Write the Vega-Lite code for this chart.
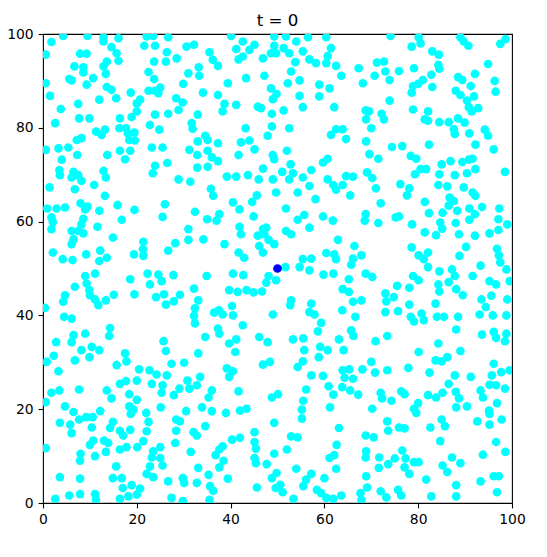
{
"$schema":"https://vega.github.io/schema/vega-lite/v6.json",
"width":469,"height":469,
"autosize":{"type":"none"},
"padding":{"left":43,"top":34,"right":35,"bottom":54},
"background":"white",
"title":{"text":"t = 0","fontSize":16.7,"font":"DejaVu Sans","fontWeight":"normal","color":"black","offset":3,"dy":6},
"config":{"view":{"stroke":"black","strokeWidth":1.1},
"axis":{"domain":false,"grid":false,"tickColor":"black","tickWidth":1.1,"tickSize":4.9,"labelFont":"DejaVu Sans","labelFontSize":13.9,"labelColor":"black","labelPadding":4.9,"title":null,"labelFlush":false,"labelOverlap":false}},
"datasets":{"cyan":[
{"x":1.8,"y":98.3},{"x":4.3,"y":99.6},{"x":9.5,"y":99.6},{"x":12.9,"y":99.3},{"x":12.9,"y":98.4},{"x":16.1,"y":99.1},{"x":14.6,"y":97.2},{"x":15.7,"y":95.9},{"x":16.1,"y":94.3},{"x":22.1,"y":99.5},{"x":23.5,"y":99.6},{"x":21.6,"y":97.5},{"x":23.9,"y":97.5},{"x":26.7,"y":99.3},{"x":26.4,"y":96.1},{"x":26.2,"y":94.1},{"x":28.5,"y":94.8},{"x":30.6,"y":97.3},{"x":32.2,"y":97.7},{"x":23.7,"y":94.1},{"x":0.6,"y":95.6},{"x":7.9,"y":95.8},{"x":9.3,"y":95.8},{"x":6.7,"y":93.1},{"x":8.6,"y":92.9},{"x":8.6,"y":91.8},{"x":13.6,"y":94.1},{"x":12.9,"y":93.1},{"x":13.4,"y":91.5},{"x":22.5,"y":91.9},{"x":23.7,"y":90.4},{"x":31.0,"y":91.6},{"x":5.6,"y":90.4},{"x":6.1,"y":90.1},{"x":0.6,"y":89.5},{"x":9.3,"y":89.2},{"x":10.7,"y":90.6},{"x":29.9,"y":89.4},{"x":13.6,"y":88.7},{"x":14.6,"y":88.1},{"x":15.6,"y":86.3},{"x":18.7,"y":87.5},{"x":22.5,"y":87.9},{"x":23.9,"y":87.9},{"x":25.0,"y":88.6},{"x":24.6,"y":87.4},{"x":1.5,"y":86.8},{"x":12.0,"y":86.0},{"x":7.5,"y":85.1},{"x":20.7,"y":86.0},{"x":20.0,"y":85.2},{"x":28.4,"y":86.3},{"x":29.8,"y":85.4},{"x":28.9,"y":83.8},{"x":3.8,"y":84.0},{"x":20.0,"y":83.5},{"x":18.9,"y":82.3},{"x":26.7,"y":83.0},{"x":23.9,"y":82.8},{"x":2.6,"y":81.0},{"x":7.7,"y":82.0},{"x":9.9,"y":82.0},{"x":16.4,"y":82.0},{"x":22.8,"y":80.6},{"x":24.8,"y":79.6},{"x":31.7,"y":81.0},{"x":31.9,"y":79.8},{"x":16.3,"y":79.9},{"x":17.7,"y":79.9},{"x":13.2,"y":79.6},{"x":11.3,"y":79.2},{"x":12.5,"y":78.5},{"x":18.1,"y":78.8},{"x":19.5,"y":79.0},{"x":18.4,"y":77.4},{"x":19.6,"y":77.3},{"x":8.2,"y":77.8},{"x":7.2,"y":77.4},
{"x":40.1,"y":99.6},{"x":42.6,"y":98.4},{"x":45.1,"y":97.7},{"x":44.0,"y":96.6},{"x":42.6,"y":95.2},{"x":41.7,"y":94.6},{"x":41.2,"y":96.8},{"x":49.3,"y":99.5},{"x":51.8,"y":99.5},{"x":54.0,"y":98.4},{"x":49.3,"y":97.5},{"x":49.7,"y":95.9},{"x":48.6,"y":95.9},{"x":51.3,"y":97.0},{"x":52.5,"y":95.9},{"x":46.9,"y":94.8},{"x":56.5,"y":99.3},{"x":60.4,"y":99.3},{"x":61.4,"y":97.0},{"x":60.7,"y":95.3},{"x":55.4,"y":96.3},{"x":56.8,"y":94.6},{"x":58.2,"y":93.8},{"x":60.4,"y":93.8},{"x":62.5,"y":93.2},{"x":63.6,"y":91.1},{"x":53.8,"y":94.0},{"x":35.5,"y":96.1},{"x":36.2,"y":94.5},{"x":37.3,"y":93.2},{"x":33.2,"y":92.9},{"x":33.3,"y":91.1},{"x":52.9,"y":92.0},{"x":47.2,"y":91.1},{"x":43.3,"y":90.6},{"x":39.4,"y":89.5},{"x":52.2,"y":89.5},{"x":54.7,"y":90.1},{"x":58.9,"y":89.2},{"x":61.1,"y":88.4},{"x":48.6,"y":88.4},{"x":49.8,"y":87.2},{"x":49.0,"y":86.1},{"x":34.1,"y":87.5},{"x":37.3,"y":87.0},{"x":38.7,"y":85.1},{"x":38.3,"y":83.5},{"x":41.2,"y":84.9},{"x":45.8,"y":84.5},{"x":46.5,"y":84.2},{"x":48.8,"y":83.0},{"x":51.3,"y":83.7},{"x":54.7,"y":86.8},{"x":55.4,"y":84.4},{"x":58.9,"y":86.7},{"x":62.1,"y":84.4},{"x":43.2,"y":79.9},{"x":48.8,"y":80.3},{"x":52.5,"y":79.9},{"x":47.9,"y":78.3},{"x":33.0,"y":82.8},{"x":61.4,"y":78.5},{"x":62.5,"y":79.7},{"x":63.9,"y":79.7},{"x":64.6,"y":77.6},{"x":34.6,"y":78.3},{"x":35.1,"y":77.4},{"x":33.0,"y":77.1},{"x":37.3,"y":76.7},{"x":42.2,"y":76.9},{"x":44.0,"y":77.3},
{"x":74.1,"y":99.6},{"x":80.1,"y":99.3},{"x":80.5,"y":98.0},{"x":78.6,"y":97.3},{"x":83.0,"y":96.3},{"x":84.4,"y":95.6},{"x":89.0,"y":99.3},{"x":89.7,"y":98.4},{"x":90.7,"y":97.5},{"x":97.5,"y":97.9},{"x":98.6,"y":98.9},{"x":67.3,"y":92.7},{"x":68.2,"y":89.5},{"x":71.2,"y":93.9},{"x":72.7,"y":94.1},{"x":73.0,"y":92.0},{"x":73.9,"y":90.2},{"x":70.7,"y":91.1},{"x":75.9,"y":92.1},{"x":79.1,"y":92.7},{"x":78.9,"y":88.9},{"x":78.6,"y":87.5},{"x":80.0,"y":89.4},{"x":81.0,"y":90.2},{"x":82.8,"y":91.3},{"x":83.0,"y":88.7},{"x":84.3,"y":93.4},{"x":84.5,"y":92.6},{"x":88.5,"y":90.8},{"x":89.4,"y":90.2},{"x":91.2,"y":88.9},{"x":92.1,"y":91.5},{"x":94.9,"y":93.6},{"x":96.3,"y":90.0},{"x":96.5,"y":87.7},{"x":88.0,"y":87.9},{"x":89.0,"y":87.0},{"x":90.4,"y":85.8},{"x":91.9,"y":86.7},{"x":90.8,"y":84.4},{"x":91.4,"y":83.5},{"x":92.8,"y":84.2},{"x":73.9,"y":85.8},{"x":68.8,"y":83.7},{"x":69.5,"y":83.5},{"x":68.9,"y":81.8},{"x":72.2,"y":83.0},{"x":72.7,"y":81.8},{"x":70.0,"y":79.9},{"x":78.9,"y":83.9},{"x":82.1,"y":83.5},{"x":81.4,"y":81.8},{"x":82.1,"y":81.5},{"x":84.5,"y":81.2},{"x":86.5,"y":81.2},{"x":88.5,"y":82.0},{"x":89.9,"y":81.1},{"x":87.6,"y":79.7},{"x":87.8,"y":78.7},{"x":90.9,"y":78.8},{"x":94.2,"y":79.6},{"x":94.9,"y":78.3},{"x":68.9,"y":77.1},{"x":74.4,"y":75.9},{"x":76.6,"y":76.1},{"x":82.3,"y":76.4},{"x":92.2,"y":76.4},{"x":96.1,"y":75.4},
{"x":0.6,"y":75.3},{"x":3.3,"y":75.6},{"x":5.4,"y":75.8},{"x":4.0,"y":73.2},{"x":7.3,"y":74.2},{"x":3.5,"y":71.0},{"x":3.6,"y":69.9},{"x":6.5,"y":70.6},{"x":6.1,"y":69.4},{"x":7.5,"y":69.9},{"x":8.2,"y":68.7},{"x":6.8,"y":66.9},{"x":1.4,"y":67.3},{"x":12.9,"y":70.8},{"x":13.4,"y":69.4},{"x":10.9,"y":67.8},{"x":13.2,"y":65.5},{"x":13.7,"y":74.2},{"x":16.4,"y":75.1},{"x":17.5,"y":73.3},{"x":18.6,"y":75.1},{"x":23.2,"y":75.8},{"x":25.5,"y":75.8},{"x":23.9,"y":71.9},{"x":23.4,"y":70.3},{"x":26.5,"y":72.5},{"x":31.2,"y":75.3},{"x":32.9,"y":74.2},{"x":32.9,"y":71.5},{"x":28.9,"y":69.0},{"x":31.4,"y":68.5},{"x":0.9,"y":62.8},{"x":2.9,"y":62.8},{"x":4.7,"y":63.0},{"x":8.0,"y":63.9},{"x":9.5,"y":63.2},{"x":9.0,"y":62.6},{"x":12.0,"y":62.3},{"x":15.9,"y":63.5},{"x":19.5,"y":62.5},{"x":26.0,"y":63.7},{"x":25.5,"y":61.0},{"x":32.4,"y":62.1},{"x":1.8,"y":60.9},{"x":2.1,"y":59.9},{"x":8.6,"y":60.6},{"x":8.2,"y":59.4},{"x":11.6,"y":58.9},{"x":16.8,"y":60.4},{"x":1.8,"y":58.4},{"x":6.1,"y":58.0},{"x":7.5,"y":58.0},{"x":8.6,"y":57.5},{"x":6.5,"y":56.2},{"x":6.1,"y":55.2},{"x":14.9,"y":56.6},{"x":21.4,"y":55.7},{"x":21.3,"y":54.1},{"x":31.0,"y":58.4},{"x":31.0,"y":56.1},{"x":28.2,"y":55.4},{"x":26.7,"y":53.8},{"x":2.1,"y":53.4},{"x":4.2,"y":52.0},{"x":6.3,"y":51.8},{"x":9.2,"y":53.0},{"x":12.2,"y":53.8},{"x":13.6,"y":52.3},{"x":12.0,"y":51.6},{"x":19.4,"y":53.0},{"x":21.4,"y":52.7},
{"x":35.1,"y":75.1},{"x":36.0,"y":73.7},{"x":37.3,"y":72.9},{"x":35.1,"y":71.7},{"x":41.7,"y":74.2},{"x":45.1,"y":75.4},{"x":49.0,"y":74.2},{"x":49.3,"y":73.3},{"x":52.0,"y":75.1},{"x":52.8,"y":72.2},{"x":46.9,"y":71.3},{"x":51.0,"y":70.6},{"x":53.3,"y":70.3},{"x":52.5,"y":69.0},{"x":55.4,"y":69.4},{"x":57.2,"y":71.0},{"x":49.0,"y":69.0},{"x":46.0,"y":69.0},{"x":43.7,"y":69.9},{"x":41.2,"y":69.6},{"x":39.2,"y":69.6},{"x":35.8,"y":67.0},{"x":36.3,"y":65.5},{"x":49.7,"y":66.2},{"x":54.3,"y":66.2},{"x":56.8,"y":67.6},{"x":58.1,"y":64.8},{"x":59.7,"y":72.6},{"x":60.7,"y":73.4},{"x":60.7,"y":69.0},{"x":61.9,"y":67.8},{"x":62.5,"y":66.8},{"x":63.9,"y":67.8},{"x":64.6,"y":69.7},{"x":66.1,"y":69.6},{"x":65.5,"y":65.6},{"x":40.5,"y":64.1},{"x":41.9,"y":62.6},{"x":44.6,"y":64.2},{"x":45.6,"y":65.6},{"x":35.0,"y":60.5},{"x":37.0,"y":60.2},{"x":37.6,"y":61.6},{"x":51.8,"y":62.8},{"x":44.9,"y":61.1},{"x":54.3,"y":60.4},{"x":55.7,"y":61.4},{"x":56.8,"y":58.7},{"x":59.7,"y":61.1},{"x":61.8,"y":60.2},{"x":41.9,"y":58.9},{"x":42.2,"y":57.3},{"x":45.8,"y":57.0},{"x":46.9,"y":58.4},{"x":47.6,"y":58.7},{"x":47.2,"y":57.3},{"x":48.1,"y":56.1},{"x":49.3,"y":55.2},{"x":46.1,"y":54.8},{"x":46.9,"y":53.4},{"x":51.8,"y":58.0},{"x":52.9,"y":57.3},{"x":34.2,"y":56.2},{"x":38.7,"y":55.2},{"x":41.7,"y":53.4},{"x":42.9,"y":52.3},{"x":55.4,"y":52.0},{"x":57.2,"y":52.1},{"x":60.4,"y":53.3},{"x":62.1,"y":53.0},{"x":62.5,"y":52.0},{"x":62.9,"y":56.1},{"x":66.4,"y":54.8},{"x":66.1,"y":52.1},
{"x":69.6,"y":74.4},{"x":71.5,"y":73.4},{"x":78.4,"y":74.0},{"x":79.6,"y":73.4},{"x":85.0,"y":72.2},{"x":86.9,"y":72.9},{"x":89.4,"y":72.7},{"x":90.8,"y":73.2},{"x":91.6,"y":73.4},{"x":92.2,"y":71.2},{"x":90.4,"y":70.3},{"x":87.8,"y":69.9},{"x":84.5,"y":70.1},{"x":79.3,"y":70.1},{"x":80.5,"y":71.2},{"x":81.7,"y":71.2},{"x":98.5,"y":70.6},{"x":69.1,"y":70.5},{"x":70.2,"y":69.3},{"x":71.0,"y":67.1},{"x":76.2,"y":68.0},{"x":78.1,"y":67.1},{"x":77.6,"y":65.6},{"x":84.3,"y":67.8},{"x":86.2,"y":67.5},{"x":89.7,"y":67.3},{"x":91.6,"y":66.2},{"x":92.2,"y":65.5},{"x":81.4,"y":64.2},{"x":72.0,"y":63.9},{"x":86.7,"y":65.1},{"x":87.6,"y":64.4},{"x":86.5,"y":63.4},{"x":88.3,"y":62.3},{"x":85.2,"y":61.9},{"x":82.3,"y":61.8},{"x":90.9,"y":62.8},{"x":90.9,"y":60.4},{"x":92.1,"y":61.6},{"x":93.6,"y":63.1},{"x":97.3,"y":62.8},{"x":97.1,"y":60.5},{"x":99.0,"y":59.4},{"x":97.1,"y":58.2},{"x":95.2,"y":57.5},{"x":68.8,"y":61.6},{"x":68.6,"y":60.2},{"x":71.5,"y":59.7},{"x":75.2,"y":60.9},{"x":75.9,"y":61.1},{"x":78.7,"y":59.4},{"x":84.7,"y":59.8},{"x":85.1,"y":58.5},{"x":88.0,"y":59.7},{"x":83.8,"y":57.1},{"x":81.4,"y":57.7},{"x":88.7,"y":57.3},{"x":92.1,"y":57.0},{"x":67.9,"y":52.8},{"x":78.6,"y":54.5},{"x":80.1,"y":52.8},{"x":82.1,"y":53.4},{"x":81.2,"y":52.0},{"x":88.8,"y":52.7},{"x":90.2,"y":54.6},{"x":96.8,"y":54.2},{"x":97.2,"y":52.8},{"x":97.5,"y":51.3},{"x":93.3,"y":50.6},
{"x":11.1,"y":48.9},{"x":9.0,"y":48.4},{"x":9.3,"y":46.8},{"x":9.9,"y":45.4},{"x":10.0,"y":44.3},{"x":11.1,"y":43.4},{"x":11.8,"y":42.2},{"x":13.4,"y":43.2},{"x":15.1,"y":44.4},{"x":6.8,"y":46.1},{"x":4.7,"y":44.3},{"x":4.3,"y":42.9},{"x":18.6,"y":47.7},{"x":22.3,"y":48.9},{"x":24.6,"y":48.7},{"x":25.3,"y":47.3},{"x":22.8,"y":46.6},{"x":27.8,"y":48.6},{"x":19.5,"y":44.5},{"x":24.1,"y":43.9},{"x":25.8,"y":44.5},{"x":26.2,"y":42.3},{"x":27.9,"y":43.0},{"x":29.2,"y":44.4},{"x":32.2,"y":45.7},{"x":33.1,"y":43.2},{"x":32.4,"y":41.5},{"x":32.2,"y":39.9},{"x":32.4,"y":38.3},{"x":0.4,"y":41.6},{"x":4.5,"y":39.7},{"x":6.1,"y":39.3},{"x":14.3,"y":37.3},{"x":14.1,"y":35.6},{"x":9.0,"y":36.1},{"x":6.5,"y":35.8},{"x":6.1,"y":34.3},{"x":2.8,"y":34.3},{"x":8.2,"y":32.6},{"x":10.4,"y":33.3},{"x":12.0,"y":32.6},{"x":9.9,"y":31.1},{"x":6.8,"y":30.4},{"x":2.3,"y":31.4},{"x":0.8,"y":30.1},{"x":3.3,"y":28.1},{"x":17.5,"y":31.9},{"x":15.7,"y":29.4},{"x":17.8,"y":30.2},{"x":20.5,"y":28.5},{"x":22.7,"y":28.3},{"x":24.2,"y":27.4},{"x":26.4,"y":27.2},{"x":27.4,"y":29.7},{"x":30.1,"y":29.9},{"x":25.7,"y":34.5},{"x":26.2,"y":32.4},{"x":33.1,"y":31.9},
{"x":51.7,"y":50.3},{"x":54.7,"y":50.3},{"x":56.8,"y":49.6},{"x":59.8,"y":48.7},{"x":61.9,"y":48.9},{"x":65.7,"y":50.8},{"x":34.9,"y":48.4},{"x":40.5,"y":48.9},{"x":42.7,"y":48.6},{"x":48.1,"y":48.4},{"x":47.6,"y":47.0},{"x":49.7,"y":47.5},{"x":39.7,"y":45.4},{"x":41.5,"y":45.0},{"x":43.4,"y":45.4},{"x":44.9,"y":44.9},{"x":46.7,"y":45.1},{"x":65.2,"y":47.7},{"x":63.9,"y":45.6},{"x":65.2,"y":45.0},{"x":40.3,"y":42.0},{"x":36.5,"y":40.6},{"x":37.5,"y":41.1},{"x":38.3,"y":40.2},{"x":40.5,"y":40.0},{"x":52.9,"y":43.2},{"x":52.7,"y":42.2},{"x":57.2,"y":42.5},{"x":56.8,"y":40.7},{"x":57.9,"y":40.2},{"x":63.8,"y":41.1},{"x":66.1,"y":42.9},{"x":66.6,"y":39.7},{"x":49.0,"y":40.2},{"x":42.6,"y":37.9},{"x":59.3,"y":38.4},{"x":58.6,"y":36.6},{"x":37.3,"y":37.2},{"x":37.6,"y":36.1},{"x":34.6,"y":35.4},{"x":46.1,"y":35.4},{"x":47.9,"y":34.3},{"x":41.2,"y":34.9},{"x":39.7,"y":34.0},{"x":41.0,"y":32.2},{"x":53.3,"y":34.9},{"x":55.5,"y":35.1},{"x":63.1,"y":34.9},{"x":65.7,"y":36.8},{"x":66.2,"y":35.6},{"x":55.7,"y":32.6},{"x":59.1,"y":33.3},{"x":60.7,"y":32.6},{"x":58.8,"y":31.1},{"x":64.1,"y":32.6},{"x":48.4,"y":30.1},{"x":46.9,"y":29.5},{"x":55.4,"y":30.2},{"x":54.3,"y":29.0},{"x":39.2,"y":28.7},{"x":40.5,"y":28.1},{"x":39.7,"y":26.9},{"x":33.5,"y":26.9},{"x":57.2,"y":27.2},{"x":59.7,"y":27.1},{"x":63.9,"y":28.3},{"x":65.3,"y":28.5},{"x":64.3,"y":26.7},{"x":66.1,"y":26.5},
{"x":82.1,"y":50.3},{"x":84.5,"y":49.4},{"x":87.2,"y":49.8},{"x":87.8,"y":48.4},{"x":86.5,"y":47.1},{"x":84.3,"y":46.6},{"x":84.5,"y":45.1},{"x":88.1,"y":45.6},{"x":89.5,"y":44.3},{"x":91.6,"y":48.4},{"x":98.8,"y":49.8},{"x":95.2,"y":47.3},{"x":96.6,"y":46.6},{"x":99.5,"y":47.3},{"x":68.8,"y":48.9},{"x":70.2,"y":48.2},{"x":78.9,"y":48.4},{"x":80.1,"y":47.5},{"x":78.1,"y":45.9},{"x":75.5,"y":46.3},{"x":73.0,"y":44.7},{"x":74.8,"y":43.9},{"x":73.2,"y":43.0},{"x":67.9,"y":43.2},{"x":73.0,"y":40.7},{"x":75.7,"y":40.9},{"x":78.1,"y":42.3},{"x":83.7,"y":42.5},{"x":80.7,"y":40.4},{"x":78.4,"y":39.7},{"x":79.1,"y":38.7},{"x":81.2,"y":39.0},{"x":84.0,"y":39.7},{"x":85.5,"y":39.7},{"x":88.5,"y":39.7},{"x":88.1,"y":37.0},{"x":93.5,"y":43.4},{"x":95.6,"y":44.2},{"x":99.0,"y":43.4},{"x":94.4,"y":41.8},{"x":93.1,"y":40.2},{"x":95.9,"y":40.0},{"x":98.8,"y":40.0},{"x":70.9,"y":34.5},{"x":73.4,"y":35.6},{"x":93.6,"y":35.9},{"x":96.1,"y":36.5},{"x":96.6,"y":35.2},{"x":98.8,"y":36.1},{"x":98.5,"y":34.5},{"x":84.3,"y":34.0},{"x":89.0,"y":32.4},{"x":80.1,"y":32.2},{"x":83.7,"y":30.4},{"x":85.0,"y":30.2},{"x":86.2,"y":31.1},{"x":70.0,"y":30.1},{"x":68.1,"y":28.5},{"x":70.8,"y":27.8},{"x":73.4,"y":28.3},{"x":77.9,"y":28.8},{"x":82.4,"y":27.8},{"x":87.8,"y":27.2},{"x":91.2,"y":26.9},{"x":96.1,"y":29.7},{"x":95.7,"y":27.2},{"x":97.7,"y":27.9},{"x":99.5,"y":28.3},
{"x":1.8,"y":23.5},{"x":3.5,"y":24.0},{"x":7.7,"y":24.2},{"x":13.6,"y":24.0},{"x":14.6,"y":22.3},{"x":16.4,"y":25.4},{"x":17.7,"y":26.0},{"x":18.4,"y":23.2},{"x":20.0,"y":26.1},{"x":20.0,"y":22.0},{"x":23.2,"y":25.4},{"x":25.5,"y":25.1},{"x":25.3,"y":23.5},{"x":27.9,"y":23.0},{"x":29.1,"y":24.4},{"x":31.2,"y":24.4},{"x":30.8,"y":26.1},{"x":32.8,"y":25.1},{"x":0.6,"y":21.5},{"x":4.7,"y":20.6},{"x":6.5,"y":19.4},{"x":7.7,"y":17.8},{"x":9.2,"y":18.3},{"x":10.6,"y":18.3},{"x":12.2,"y":19.6},{"x":18.4,"y":20.6},{"x":19.3,"y":19.9},{"x":18.7,"y":19.0},{"x":22.0,"y":19.2},{"x":25.1,"y":20.4},{"x":22.5,"y":17.3},{"x":22.1,"y":15.3},{"x":30.5,"y":19.6},{"x":28.4,"y":17.8},{"x":29.2,"y":17.4},{"x":28.4,"y":15.4},{"x":32.1,"y":15.1},{"x":32.8,"y":14.4},{"x":3.6,"y":17.1},{"x":5.8,"y":16.7},{"x":6.1,"y":14.9},{"x":10.4,"y":16.1},{"x":14.9,"y":17.3},{"x":14.3,"y":16.0},{"x":16.4,"y":15.4},{"x":17.1,"y":14.4},{"x":18.6,"y":15.6},{"x":10.7,"y":13.3},{"x":10.0,"y":12.4},{"x":13.0,"y":13.3},{"x":13.9,"y":12.8},{"x":13.4,"y":10.9},{"x":11.1,"y":10.0},{"x":16.4,"y":11.4},{"x":17.8,"y":11.9},{"x":20.1,"y":11.9},{"x":21.4,"y":13.2},{"x":23.5,"y":11.0},{"x":25.0,"y":11.9},{"x":23.2,"y":9.7},{"x":25.0,"y":9.6},{"x":22.8,"y":7.8},{"x":25.5,"y":8.0},{"x":0.6,"y":11.7},{"x":8.0,"y":10.5},{"x":7.9,"y":9.0},{"x":15.6,"y":7.8},{"x":14.9,"y":5.3},{"x":16.8,"y":5.3},{"x":17.0,"y":3.2},{"x":18.9,"y":3.8},{"x":20.7,"y":3.1},{"x":20.0,"y":1.8},{"x":18.2,"y":1.4},{"x":16.4,"y":0.9},{"x":22.1,"y":6.2},{"x":23.5,"y":5.5},{"x":26.7,"y":4.6},{"x":29.8,"y":5.3},{"x":30.1,"y":4.3},{"x":28.2,"y":12.8},{"x":31.5,"y":10.9},{"x":33.1,"y":7.5},{"x":32.8,"y":4.3},{"x":3.6,"y":5.5},{"x":7.9,"y":5.2},{"x":7.9,"y":1.9},{"x":5.6,"y":1.6},{"x":2.6,"y":0.9},{"x":11.1,"y":1.9},{"x":11.3,"y":0.7},{"x":27.4,"y":1.1},{"x":29.8,"y":0.4},
{"x":36.0,"y":24.0},{"x":35.3,"y":22.5},{"x":41.7,"y":23.8},{"x":48.8,"y":22.5},{"x":50.1,"y":23.2},{"x":56.1,"y":24.2},{"x":55.5,"y":21.8},{"x":55.2,"y":19.9},{"x":60.9,"y":24.9},{"x":61.9,"y":23.1},{"x":63.8,"y":24.7},{"x":65.5,"y":24.0},{"x":61.2,"y":20.4},{"x":33.9,"y":20.4},{"x":36.0,"y":19.6},{"x":39.0,"y":19.2},{"x":42.0,"y":19.7},{"x":43.4,"y":20.1},{"x":55.2,"y":18.0},{"x":49.3,"y":17.1},{"x":34.6,"y":16.4},{"x":45.1,"y":15.1},{"x":40.3,"y":13.5},{"x":42.0,"y":13.9},{"x":45.1,"y":13.0},{"x":45.4,"y":11.6},{"x":38.3,"y":12.1},{"x":37.6,"y":11.4},{"x":36.8,"y":10.2},{"x":52.9,"y":14.2},{"x":54.3,"y":14.0},{"x":52.0,"y":11.4},{"x":49.3,"y":10.5},{"x":63.1,"y":16.0},{"x":62.6,"y":12.4},{"x":61.1,"y":9.6},{"x":62.1,"y":10.2},{"x":62.5,"y":7.3},{"x":38.5,"y":9.0},{"x":37.6,"y":7.6},{"x":35.3,"y":6.0},{"x":39.4,"y":5.2},{"x":45.1,"y":9.6},{"x":45.4,"y":8.5},{"x":47.7,"y":8.3},{"x":49.8,"y":6.4},{"x":48.8,"y":5.3},{"x":54.0,"y":7.3},{"x":57.2,"y":6.2},{"x":56.1,"y":5.0},{"x":55.5,"y":3.6},{"x":60.0,"y":5.3},{"x":35.6,"y":3.6},{"x":36.3,"y":2.6},{"x":45.6,"y":3.3},{"x":49.6,"y":3.2},{"x":50.6,"y":3.9},{"x":51.1,"y":2.3},{"x":53.4,"y":0.9},{"x":58.4,"y":2.8},{"x":59.3,"y":2.1},{"x":60.4,"y":1.1},{"x":61.9,"y":0.9},{"x":63.6,"y":1.6},{"x":35.5,"y":0.7},
{"x":67.2,"y":23.1},{"x":72.0,"y":23.5},{"x":72.3,"y":22.3},{"x":74.3,"y":21.8},{"x":70.2,"y":20.1},{"x":76.4,"y":23.8},{"x":77.1,"y":23.2},{"x":80.0,"y":21.3},{"x":79.1,"y":20.1},{"x":79.6,"y":19.2},{"x":82.1,"y":23.0},{"x":83.8,"y":22.5},{"x":85.2,"y":23.5},{"x":86.5,"y":25.4},{"x":88.0,"y":23.7},{"x":88.7,"y":22.3},{"x":88.1,"y":20.4},{"x":90.4,"y":20.6},{"x":93.3,"y":24.0},{"x":93.8,"y":22.5},{"x":95.2,"y":25.2},{"x":96.6,"y":25.1},{"x":98.5,"y":24.4},{"x":96.8,"y":21.3},{"x":95.1,"y":19.7},{"x":95.2,"y":19.0},{"x":92.6,"y":17.4},{"x":95.2,"y":16.7},{"x":97.8,"y":17.8},{"x":85.0,"y":17.8},{"x":85.7,"y":16.4},{"x":82.6,"y":16.1},{"x":73.4,"y":17.4},{"x":73.6,"y":15.4},{"x":75.9,"y":16.1},{"x":77.1,"y":15.9},{"x":68.8,"y":14.4},{"x":70.5,"y":14.0},{"x":84.7,"y":13.2},{"x":96.6,"y":13.0},{"x":98.6,"y":10.9},{"x":93.8,"y":10.3},{"x":87.2,"y":9.7},{"x":89.0,"y":8.5},{"x":85.2,"y":8.0},{"x":86.2,"y":6.6},{"x":81.7,"y":5.0},{"x":88.1,"y":3.8},{"x":93.3,"y":4.6},{"x":96.1,"y":5.7},{"x":97.2,"y":5.7},{"x":96.8,"y":2.3},{"x":68.9,"y":11.0},{"x":68.8,"y":9.7},{"x":71.7,"y":9.7},{"x":71.6,"y":7.5},{"x":73.6,"y":8.3},{"x":75.0,"y":9.5},{"x":76.6,"y":11.2},{"x":77.3,"y":9.5},{"x":77.1,"y":7.6},{"x":78.1,"y":6.2},{"x":79.1,"y":8.7},{"x":80.1,"y":8.7},{"x":68.9,"y":5.7},{"x":69.1,"y":3.3},{"x":67.7,"y":2.1},{"x":67.9,"y":0.7},{"x":72.0,"y":2.5},{"x":73.2,"y":1.2},{"x":75.7,"y":2.8},{"x":76.4,"y":1.6},{"x":82.8,"y":1.4},{"x":88.1,"y":1.4}
],
"blue":[{"x":50,"y":50}]},
"encoding":{
"x":{"field":"x","type":"quantitative","scale":{"domain":[0,100],"nice":false,"zero":false},"axis":{"values":[0,20,40,60,80,100]}},
"y":{"field":"y","type":"quantitative","scale":{"domain":[0,100],"nice":false,"zero":false},"axis":{"values":[0,20,40,60,80,100]}}
},
"layer":[
{"data":{"name":"cyan"},"mark":{"type":"circle","size":75,"opacity":1,"color":"#00ffff","clip":true}},
{"data":{"name":"blue"},"mark":{"type":"circle","size":75,"opacity":1,"color":"#0000ff","clip":true}}
]
}
